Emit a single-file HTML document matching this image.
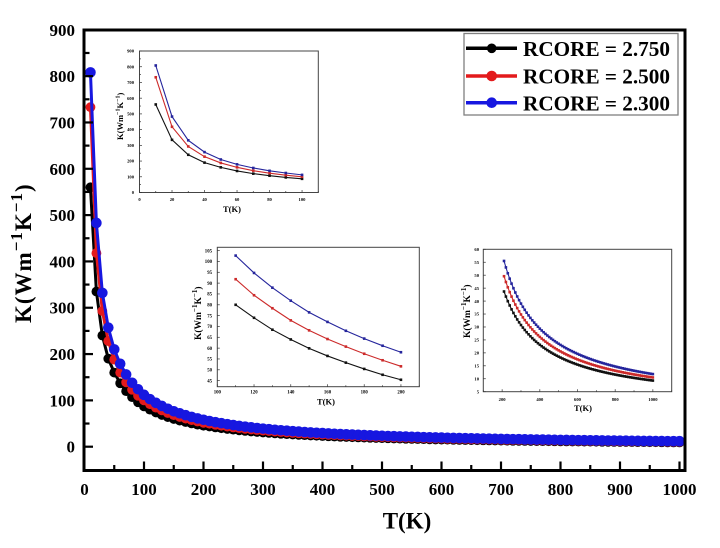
<!DOCTYPE html>
<html><head><meta charset="utf-8"><style>
html,body{margin:0;padding:0;background:#fff;}
svg{display:block;}
text{font-family:"Liberation Serif","Times New Roman",serif;font-weight:bold;fill:#000;}
</style></head><body>
<svg id="s" width="720" height="548" viewBox="0 0 720 548" xmlns="http://www.w3.org/2000/svg">
<rect width="720" height="548" fill="#fff"/>
<g id="md"></g>
<rect x="84" y="30" width="601" height="440.5" fill="none" stroke="#000" stroke-width="3"/>
<g id="mt" stroke="#000" stroke-width="2.2"></g>

<!-- main tick labels -->
<g font-size="17" text-anchor="end">
<text x="75" y="452.7">0</text>
<text x="75" y="406.4">100</text>
<text x="75" y="360.1">200</text>
<text x="75" y="313.7">300</text>
<text x="75" y="267.4">400</text>
<text x="75" y="221.1">500</text>
<text x="75" y="174.8">600</text>
<text x="75" y="128.5">700</text>
<text x="75" y="82.1">800</text>
<text x="75" y="35.8">900</text>
</g>
<g font-size="17" text-anchor="middle">
<text x="84.5" y="495">0</text>
<text x="144" y="495">100</text>
<text x="203.5" y="495">200</text>
<text x="263" y="495">300</text>
<text x="322.5" y="495">400</text>
<text x="382" y="495">500</text>
<text x="441.5" y="495">600</text>
<text x="501" y="495">700</text>
<text x="560.5" y="495">800</text>
<text x="620" y="495">900</text>
<text x="679.5" y="495">1000</text>
</g>
<text x="407" y="528.5" font-size="23" text-anchor="middle">T(K)</text>
<text transform="translate(31,323) rotate(-90)" font-size="23" letter-spacing="1">K(Wm<tspan dy="-9" font-size="17">−1</tspan><tspan dy="9">K</tspan><tspan dy="-9" font-size="17">−1</tspan><tspan dy="9">)</tspan></text>

<!-- inset 1 -->
<rect x="139.5" y="51" width="178.8" height="141.5" fill="#fff" stroke="#444" stroke-width="1"/>
<g id="i1"></g>
<g font-size="4.6" text-anchor="end">
<text x="134" y="194.1">0</text>
<text x="134" y="178.4">100</text>
<text x="134" y="162.7">200</text>
<text x="134" y="146.9">300</text>
<text x="134" y="131.2">400</text>
<text x="134" y="115.5">500</text>
<text x="134" y="99.8">600</text>
<text x="134" y="84.1">700</text>
<text x="134" y="68.3">800</text>
<text x="134" y="52.6">900</text>
</g>
<g font-size="4.6" text-anchor="middle">
<text x="139.5" y="201">0</text>
<text x="172" y="201">20</text>
<text x="204.5" y="201">40</text>
<text x="237" y="201">60</text>
<text x="269.5" y="201">80</text>
<text x="302" y="201">100</text>
</g>
<text x="232" y="212" font-size="8.5" text-anchor="middle">T(K)</text>
<text transform="translate(123,140) rotate(-90)" font-size="8.5">K(Wm<tspan dy="-3.5" font-size="6">−1</tspan><tspan dy="3.5">K</tspan><tspan dy="-3.5" font-size="6">−1</tspan><tspan dy="3.5">)</tspan></text>

<!-- inset 2 -->
<rect x="217.3" y="247.3" width="202" height="139.4" fill="#fff" stroke="#444" stroke-width="1"/>
<g id="i2"></g>
<g font-size="4.8" text-anchor="end">
<text x="212" y="382.3">45</text>
<text x="212" y="371.5">50</text>
<text x="212" y="360.7">55</text>
<text x="212" y="349.8">60</text>
<text x="212" y="339.0">65</text>
<text x="212" y="328.2">70</text>
<text x="212" y="317.4">75</text>
<text x="212" y="306.5">80</text>
<text x="212" y="295.7">85</text>
<text x="212" y="284.8">90</text>
<text x="212" y="274.0">95</text>
<text x="212" y="263.1">100</text>
<text x="212" y="252.3">105</text>
</g>
<g font-size="4.8" text-anchor="middle">
<text x="217.3" y="393.5">100</text>
<text x="254" y="393.5">120</text>
<text x="290.8" y="393.5">140</text>
<text x="327.5" y="393.5">160</text>
<text x="364.2" y="393.5">180</text>
<text x="401" y="393.5">200</text>
</g>
<text x="326" y="404.5" font-size="8.5" text-anchor="middle">T(K)</text>
<text transform="translate(201,340) rotate(-90)" font-size="9.5">K(Wm<tspan dy="-4" font-size="7">−1</tspan><tspan dy="4">K</tspan><tspan dy="-4" font-size="7">−1</tspan><tspan dy="4">)</tspan></text>

<!-- inset 3 -->
<rect x="483.3" y="249.3" width="188.4" height="142.4" fill="#fff" stroke="#444" stroke-width="1"/>
<g id="i3"></g>
<g font-size="4.6" text-anchor="end">
<text x="479" y="393.4">5</text>
<text x="479" y="380.5">10</text>
<text x="479" y="367.5">15</text>
<text x="479" y="354.6">20</text>
<text x="479" y="341.6">25</text>
<text x="479" y="328.7">30</text>
<text x="479" y="315.7">35</text>
<text x="479" y="302.8">40</text>
<text x="479" y="289.8">45</text>
<text x="479" y="276.9">50</text>
<text x="479" y="263.9">55</text>
<text x="479" y="251.0">60</text>
</g>
<g font-size="4.6" text-anchor="middle">
<text x="502.1" y="401">200</text>
<text x="539.8" y="401">400</text>
<text x="577.5" y="401">600</text>
<text x="615.2" y="401">800</text>
<text x="652.9" y="401">1000</text>
</g>
<text x="583" y="411" font-size="8.5" text-anchor="middle">T(K)</text>
<text transform="translate(470,338) rotate(-90)" font-size="9.5">K(Wm<tspan dy="-4" font-size="7">−1</tspan><tspan dy="4">K</tspan><tspan dy="-4" font-size="7">−1</tspan><tspan dy="4">)</tspan></text>

<!-- legend -->
<rect x="464" y="33.5" width="214" height="81.5" fill="#fff" stroke="#808080" stroke-width="1.3"/>
<line x1="466" y1="48.3" x2="517" y2="48.3" stroke="#000" stroke-width="3.5"/>
<circle cx="491.7" cy="48.3" r="4.8" fill="#000"/>
<line x1="466" y1="76" x2="517" y2="76" stroke="#e31a1c" stroke-width="3.5"/>
<circle cx="491.7" cy="76" r="5.3" fill="#e31a1c"/>
<line x1="466" y1="102.7" x2="517" y2="102.7" stroke="#1717e0" stroke-width="3.5"/>
<circle cx="491.7" cy="102.7" r="5.3" fill="#1717e0"/>
<g font-size="21.5">
<text x="523" y="56" textLength="147" lengthAdjust="spacingAndGlyphs">RCORE = 2.750</text>
<text x="523" y="83.3" textLength="147" lengthAdjust="spacingAndGlyphs">RCORE = 2.500</text>
<text x="523" y="110.5" textLength="147" lengthAdjust="spacingAndGlyphs">RCORE = 2.300</text>
</g>
</svg>
<script>
(function(){
const NS="http://www.w3.org/2000/svg";
function mk(tag,a,p){const e=document.createElementNS(NS,tag);for(const k in a)e.setAttribute(k,a[k]);p.appendChild(e);return e;}
const tab={
 k:[560,335,240,190,160,137,120,107,96,87,80.0,74.0,68.5,64.0,59.9,56.4,53.3,50.4,47.7,45.4],
 r:[733,418,293,228,188,160,139,123,110,100,91.8,84.4,78.4,72.8,68.2,64.2,60.7,57.4,54.4,51.6],
 b:[808,483,332,257,210,179,156,138,124,112,102.7,94.7,87.9,81.9,76.5,72.1,68.0,64.4,61.1,58.1]};
const fit={k:[0.00038,1.0715e-4],r:[0.000202,9.504e-5],b:[0.00028,8.4466e-5]};
function K(s,T){return T<=200?tab[s][Math.round(T/10)-1]:1/(fit[s][0]+fit[s][1]*T);}
const f=v=>v.toFixed(2);
// main data
const col={k:'#000',r:'#e31a1c',b:'#1717e0'};
const g=document.getElementById('md');
['k','r','b'].forEach(s=>{
  const pts=[];
  for(let T=10;T<=1000;T+=10)pts.push([84.5+T*0.595,446.7-K(s,T)*0.4632]);
  mk('polyline',{points:pts.map(p=>f(p[0])+','+f(p[1])).join(' '),fill:'none',stroke:col[s],'stroke-width':3,'stroke-linejoin':'round'},g);
  const r=s==='b'?5.3:4.9;
  pts.forEach(p=>mk('circle',{cx:f(p[0]),cy:f(p[1]),r:r,fill:col[s]},g));
});
// main ticks
const mt=document.getElementById('mt');
for(let v=0;v<=900;v+=50){
  const y=446.7-v*0.4632;const L=(v%100===0)?9:5.5;
  mk('line',{x1:84,y1:f(y),x2:84+L,y2:f(y)},mt);
}
for(let T=50;T<=1000;T+=50){
  const x=84.5+T*0.595;const L=(T%100===0)?9:5.5;
  mk('line',{x1:f(x),y1:470.5,x2:f(x),y2:470.5-L},mt);
}
// insets
const icol={k:'#111',r:'#cc2a2a',b:'#25259c'};
function inset(id,T0,T1,mx,my,ticks){
  const ig=document.getElementById(id);
  ['k','r','b'].forEach(s=>{
    const pts=[];
    for(let T=T0;T<=T1;T+=10)pts.push([mx(T),my(K(s,T))]);
    mk('polyline',{points:pts.map(p=>f(p[0])+','+f(p[1])).join(' '),fill:'none',stroke:icol[s],'stroke-width':1.1},ig);
    pts.forEach(p=>mk('rect',{x:f(p[0]-1.3),y:f(p[1]-1.3),width:2.6,height:2.6,fill:icol[s]},ig));
  });
  const tg=mk('g',{stroke:'#333','stroke-width':0.7},ig);
  ticks(tg);
}
inset('i1',10,100,T=>139.5+T*1.6255,v=>192.5-v*0.1572,tg=>{
  for(let v=0;v<=900;v+=50){const y=192.5-v*0.1572;const L=v%100===0?2.5:1.5;mk('line',{x1:139.5,y1:f(y),x2:139.5+L,y2:f(y)},tg);}
  for(let T=0;T<=110;T+=10){const x=139.5+T*1.6255;const L=T%20===0?2.5:1.5;mk('line',{x1:f(x),y1:192.5,x2:f(x),y2:192.5-L},tg);}
});
inset('i2',110,200,T=>217.3+(T-100)*1.8364,v=>386.7-(v-42.2)*2.167,tg=>{
  for(let v=45;v<=105;v+=5){const y=386.7-(v-42.2)*2.167;mk('line',{x1:217.3,y1:f(y),x2:219.8,y2:f(y)},tg);}
  for(let T=100;T<=210;T+=10){const x=217.3+(T-100)*1.8364;const L=T%20===0?2.5:1.5;mk('line',{x1:f(x),y1:386.7,x2:f(x),y2:386.7-L},tg);}
});
inset('i3',210,1000,T=>483.3+(T-100)*0.1884,v=>391.7-(v-5)*2.589,tg=>{
  for(let v=5;v<=60;v+=5){const y=391.7-(v-5)*2.589;mk('line',{x1:483.3,y1:f(y),x2:485.8,y2:f(y)},tg);}
  for(let T=100;T<=1100;T+=100){const x=483.3+(T-100)*0.1884;const L=T%200===0?2.5:1.5;mk('line',{x1:f(x),y1:391.7,x2:f(x),y2:391.7-L},tg);}
});
})();
</script>
</body></html>
